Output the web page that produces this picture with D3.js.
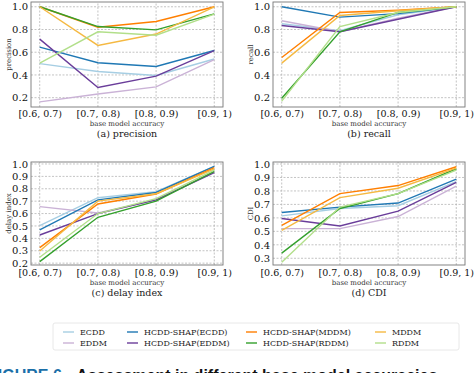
<!DOCTYPE html>
<html>
<head>
<meta charset="utf-8">
<script src="https://cdn.jsdelivr.net/npm/d3@7"></script>
<style>
  body { margin: 0; background: #fff; }
  svg { display: block; font-family: "DejaVu Serif", serif; }
</style>
</head>
<body>
<svg id="chart" width="474" height="373"></svg>
<script>
// categories on the x axis
const categories = ['[0.6, 0.7)', '[0.7, 0.8)', '[0.8, 0.9)', '[0.9, 1)'];

// methods, in legend order
const methods = ['ECDD', 'EDDM', 'HCDD-SHAP(ECDD)', 'HCDD-SHAP(EDDM)',
  'HCDD-SHAP(MDDM)', 'HCDD-SHAP(RDDM)', 'MDDM', 'RDDM'];
const methodColors = ['#a6cee3', '#cab2d6', '#1f78b4', '#6a3d9a',
  '#ff7f00', '#33a02c', '#f5b942', '#b2df8a'];

// values per method (same order as methods)
const precisionValues = [
  [0.50, 0.43, 0.395, 0.54],
  [0.163, 0.233, 0.295, 0.535],
  [0.645, 0.507, 0.474, 0.615],
  [0.715, 0.29, 0.39, 0.615],
  [1.0, 0.82, 0.87, 1.0],
  [1.0, 0.826, 0.797, 0.938],
  [1.0, 0.66, 0.76, 1.0],
  [0.504, 0.78, 0.75, 0.935]
];
const recallValues = [
  [0.85, 0.79, 0.93, 1.0],
  [0.877, 0.78, 0.90, 1.0],
  [1.0, 0.909, 0.94, 1.0],
  [0.835, 0.78, 0.89, 1.0],
  [0.553, 0.95, 0.97, 1.0],
  [0.195, 0.78, 0.95, 1.0],
  [0.504, 0.923, 0.965, 1.0],
  [0.17, 0.826, 0.95, 1.0]
];
const delayValues = [
  [0.502, 0.728, 0.777, 0.98],
  [0.656, 0.605, 0.71, 0.94],
  [0.468, 0.71, 0.77, 0.98],
  [0.427, 0.60, 0.71, 0.93],
  [0.325, 0.677, 0.758, 0.97],
  [0.212, 0.57, 0.70, 0.94],
  [0.298, 0.70, 0.76, 0.96],
  [0.247, 0.60, 0.72, 0.95]
];
const cdiValues = [
  [0.615, 0.67, 0.69, 0.87],
  [0.52, 0.52, 0.61, 0.836],
  [0.64, 0.68, 0.71, 0.888],
  [0.595, 0.54, 0.65, 0.863],
  [0.545, 0.78, 0.84, 0.98],
  [0.338, 0.67, 0.78, 0.965],
  [0.507, 0.75, 0.82, 0.97],
  [0.27, 0.68, 0.78, 0.955]
];

const precisionTicks = [0.2, 0.4, 0.6, 0.8, 1.0];
const recallTicks = [0.2, 0.4, 0.6, 0.8, 1.0];
const delayTicks = [0.2, 0.3, 0.4, 0.5, 0.6, 0.7, 0.8, 0.9, 1.0];
const cdiTicks = [0.3, 0.4, 0.5, 0.6, 0.7, 0.8, 0.9, 1.0];

const panels = [
  { values: precisionValues, ticks: precisionTicks, ylabel: 'precision', caption: '(a) precision',
    x: [31, 223], y: [107, 2], domain: [0.118, 1.042], pad: 3 },
  { values: recallValues, ticks: recallTicks, ylabel: 'recall', caption: '(b) recall',
    x: [273, 465], y: [107, 2], domain: [0.118, 1.042], pad: 3 },
  { values: delayValues, ticks: delayTicks, ylabel: 'delay index', caption: '(c) delay index',
    x: [31, 223], y: [265, 162], domain: [0.185, 1.016], pad: 4 },
  { values: cdiValues, ticks: cdiTicks, ylabel: 'CDI', caption: '(d) CDI',
    x: [273, 465], y: [265, 162], domain: [0.25, 1.015], pad: 4 }
];

const svg = d3.select('#chart');

panels.forEach(p => {
  const x = d3.scalePoint().domain(categories).range(p.x).padding(0.15);
  const y = d3.scaleLinear().domain(p.domain).range(p.y);
  const g = svg.append('g');

  // grid
  g.selectAll('.hgrid').data(p.ticks).join('line')
    .attr('x1', p.x[0]).attr('x2', p.x[1])
    .attr('y1', d => y(d)).attr('y2', d => y(d))
    .attr('stroke', '#b5b5b5').attr('stroke-width', 0.8)
    .attr('stroke-dasharray', '2,1.5');
  g.selectAll('.vgrid').data(categories).join('line')
    .attr('x1', d => x(d)).attr('x2', d => x(d))
    .attr('y1', p.y[0]).attr('y2', p.y[1])
    .attr('stroke', '#b5b5b5').attr('stroke-width', 0.8)
    .attr('stroke-dasharray', '2,1.5');

  // frame
  g.append('rect')
    .attr('x', p.x[0]).attr('y', p.y[1])
    .attr('width', p.x[1] - p.x[0]).attr('height', p.y[0] - p.y[1])
    .attr('fill', 'none').attr('stroke', '#777').attr('stroke-width', 0.9);

  // lines
  const line = d3.line()
    .x((d, i) => x(categories[i]))
    .y(d => y(d));
  g.selectAll('.series').data(p.values).join('path')
    .attr('d', line)
    .attr('fill', 'none')
    .attr('stroke', (d, i) => methodColors[i])
    .attr('stroke-width', 1.4);

  // axes
  const xAxis = g.append('g')
    .attr('transform', `translate(0,${p.y[0]})`)
    .call(d3.axisBottom(x).tickSize(0).tickPadding(p.pad));
  const yAxis = g.append('g')
    .attr('transform', `translate(${p.x[0]},0)`)
    .call(d3.axisLeft(y).tickValues(p.ticks).tickFormat(d3.format('.1f')).tickSize(0).tickPadding(3));
  xAxis.select('.domain').remove();
  yAxis.select('.domain').remove();
  xAxis.selectAll('text')
    .style('font-family', '"DejaVu Serif", serif')
    .style('font-size', '9.5px')
    .attr('fill', '#111');
  yAxis.selectAll('text')
    .style('font-family', '"DejaVu Serif", serif')
    .style('font-size', '10px')
    .attr('fill', '#111');

  const cx = (p.x[0] + p.x[1]) / 2;
  g.append('text')
    .attr('x', cx).attr('y', p.y[0] + p.pad + 15.5)
    .attr('text-anchor', 'middle')
    .style('font-size', '7px').attr('fill', '#333')
    .text('base model accuracy');
  g.append('text')
    .attr('x', cx).attr('y', p.y[0] + p.pad + 26.5)
    .attr('text-anchor', 'middle')
    .style('font-size', '9.5px').attr('fill', '#222')
    .text(p.caption);
  g.append('text')
    .attr('transform', `translate(${p.x[0] - 20.5},${(p.y[0] + p.y[1]) / 2}) rotate(-90)`)
    .attr('text-anchor', 'middle')
    .style('font-size', '7px').attr('fill', '#333')
    .text(p.ylabel);
});

// legend
const legendX = [63, 127, 246, 375];
const legendY = [332, 343];
const legend = svg.append('g');
legend.append('rect')
  .attr('x', 53).attr('y', 323).attr('width', 406).attr('height', 27)
  .attr('rx', 2).attr('fill', '#fff')
  .attr('stroke', '#e2e2e2').attr('stroke-width', 0.8);
const items = legend.selectAll('.item').data(methods).join('g')
  .attr('transform', (d, i) => `translate(${legendX[Math.floor(i / 2)]},${legendY[i % 2]})`);
items.append('line')
  .attr('x1', 0).attr('x2', 11)
  .attr('stroke', (d, i) => methodColors[i]).attr('stroke-width', 1.4);
items.append('text')
  .attr('x', 17).attr('dy', '0.33em')
  .style('font-size', '8px').attr('fill', '#222')
  .text(d => d);

// figure caption (cut off at the bottom of the picture)
const cap = svg.append('text')
  .attr('x', -12).attr('y', 381)
  .style('font-family', '"Liberation Sans", sans-serif')
  .style('font-size', '16px').style('font-weight', 'bold');
cap.append('tspan').attr('fill', '#1a6fa8').text('FIGURE 6.');
cap.append('tspan').attr('dx', 10).attr('fill', '#111')
  .text('Assessment in different base model accuracies');
</script>
</body>
</html>
